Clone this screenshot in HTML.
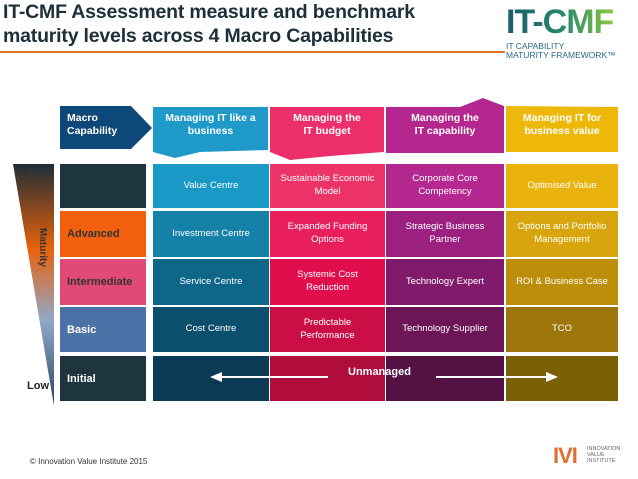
<!DOCTYPE html>
<html><head><meta charset="utf-8"><style>
body{margin:0;width:638px;height:479px;background:#fff;position:relative;overflow:hidden;font-family:"Liberation Sans",sans-serif}
.a{position:absolute}
.c{position:absolute;display:flex;align-items:center;justify-content:center;text-align:center;color:#fff;font-size:9.5px;line-height:1.35}
.l{position:absolute;display:flex;align-items:center;padding-left:7px;box-sizing:border-box;font-weight:bold;font-size:11px}
.h{position:absolute;color:#fff;font-weight:bold;font-size:10.5px;text-align:center;line-height:1.25}
</style></head><body>
<div class="a" style="left:3px;top:0px;font-weight:bold;font-size:19.5px;color:#1d2f3a;line-height:24px;letter-spacing:-0.2px">IT-CMF Assessment measure and benchmark<br>maturity levels across 4 Macro Capabilities</div>
<div class="a" style="left:0;top:51px;width:505px;height:2px;background:#e07030"></div>
<div class="a" style="left:506px;top:5px;font-weight:bold;font-size:34px;line-height:34px;letter-spacing:-1px;background:linear-gradient(90deg,#1c5a6a,#2a8a6a 55%,#8cc63f);-webkit-background-clip:text;color:transparent">IT-CMF</div>
<div class="a" style="left:506px;top:42px;font-size:8.5px;line-height:9px;color:#2a6a8a">IT CAPABILITY<br>MATURITY FRAMEWORK™</div>

<svg class="a" style="left:0;top:0" width="638" height="479">
<defs><linearGradient id="g" x1="0" y1="0" x2="0" y2="1"><stop offset="0" stop-color="#1e2d36"/><stop offset="0.35" stop-color="#e8620c"/><stop offset="0.65" stop-color="#90a8c8"/><stop offset="1" stop-color="#2a4660"/></linearGradient></defs>
<polygon points="13,164 54,164 54,406" fill="url(#g)"/>
<polygon points="60,106 131,106 152,128 131,149 60,149" fill="#0d4878"/>
<polygon points="153,107 268,107 268,150 200,152 175,158 153,152" fill="#1f9ac8"/>
<polygon points="270,107 384,107 384,152 330,156 290,160 270,152" fill="#ec2f6a"/>
<polygon points="386,107 460,107 483,98 504,106 504,153 386,153" fill="#b4278e"/>
<polygon points="506,106 618,107 618,152 506,152" fill="#eeb80a"/>
</svg>
<div class="a" style="left:30px;top:166px;font-size:9px;color:#2a3a45;font-weight:bold">High</div>
<div class="a" style="top:228px;font-size:10px;color:#333;font-weight:bold;transform:rotate(90deg);transform-origin:0 0;left:48px">Maturity</div>
<div class="a" style="left:27px;top:380px;font-size:11px;color:#222;font-weight:bold">Low</div>

<div class="h" style="left:67px;top:112px;text-align:left">Macro<br>Capability</div>
<div class="h" style="left:153px;top:112px;width:115px">Managing IT like a<br>business</div>
<div class="h" style="left:270px;top:112px;width:114px">Managing the<br>IT budget</div>
<div class="h" style="left:386px;top:112px;width:118px">Managing the<br>IT capability</div>
<div class="h" style="left:506px;top:112px;width:112px">Managing IT for<br>business value</div>

<div id="grid"></div>
<div class="a" style="left:348px;top:366px;color:#fff;font-weight:bold;font-size:11px">Unmanaged</div>
<svg class="a" style="left:0;top:0" width="638" height="479">
<line x1="218" y1="377" x2="328" y2="377" stroke="#fff" stroke-width="2"/><polygon points="210,377 222,372 222,382" fill="#fff"/>
<line x1="436" y1="377" x2="550" y2="377" stroke="#fff" stroke-width="2"/><polygon points="558,377 546,372 546,382" fill="#fff"/>
</svg>
<div class="a" style="left:30px;top:457px;font-size:8px;color:#333">© Innovation Value Institute 2015</div>
<div class="a" style="left:553px;top:443px;font-weight:bold;font-size:22px;color:#e07030;letter-spacing:-1px">IVI</div>
<div class="a" style="left:587px;top:446px;font-size:5.5px;line-height:6px;color:#666">INNOVATION<br>VALUE<br>INSTITUTE</div>
<script>
const levels=["","Advanced","Intermediate","Basic","Initial"];
const levelColors=["#1e3540","#f0600e","#e14a76","#4a72a6","#1e3540"];
const cells=[["Value Centre","Sustainable Economic<br>Model","Corporate Core<br>Competency","Optimised Value"],
["Investment Centre","Expanded Funding<br>Options","Strategic Business<br>Partner","Options and Portfolio<br>Management"],
["Service Centre","Systemic Cost<br>Reduction","Technology Expert","ROI &amp; Business Case"],
["Cost Centre","Predictable<br>Performance","Technology Supplier","TCO"],["","","",""]];
const colors=[["#1a98c6","#ec3468","#b42890","#eab20c"],["#1580a8","#e91e5c","#9c2080","#d8a60c"],["#0e6688","#e10e4e","#821a6c","#bc8e0a"],["#0c4f6c","#cc0e46","#6c1658","#9c760a"],["#0a3a54","#b00c3c","#541244","#7c6008"]];
const rowY=[164,211,259,307,356],rowH=[44,46,46,45,45];
const colX=[153,270,386,506],colW=[116,115,118,112];
const g=document.getElementById('grid');
levels.forEach((t,r)=>{const d=document.createElement('div');d.className='l';


d.style.cssText=`left:60px;top:${rowY[r]}px;width:86px;height:${rowH[r]}px;background:${levelColors[r]};color:${r==0||r==3||r==4?'#fff':'#333'}`;d.textContent=t;g.appendChild(d);
cells[r].forEach((c,k)=>{const e=document.createElement('div');e.className='c';


e.style.cssText=`left:${colX[k]}px;top:${rowY[r]}px;width:${colW[k]}px;height:${rowH[r]}px;background:${colors[r][k]}`;e.innerHTML=c;g.appendChild(e);});});
</script>
</body></html>
